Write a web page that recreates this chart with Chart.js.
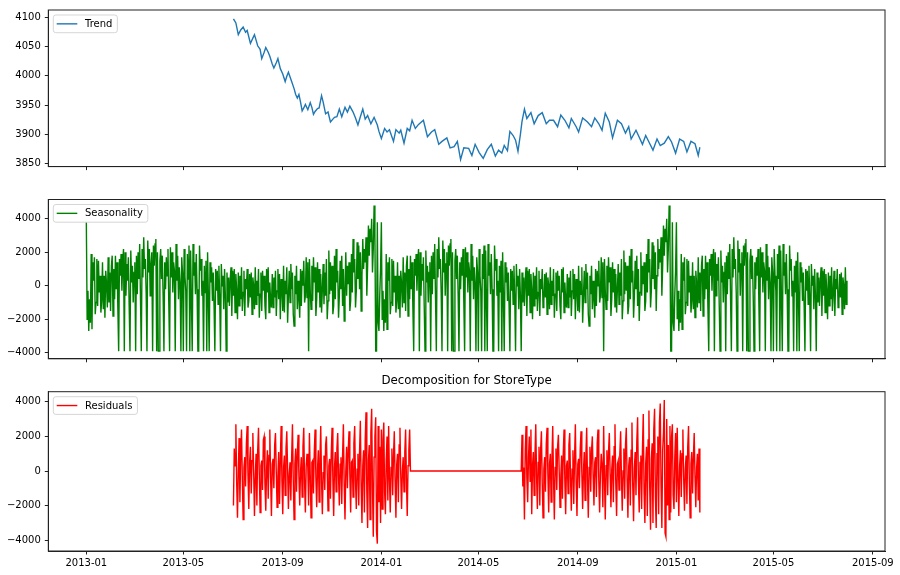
<!DOCTYPE html>
<html>
<head>
<meta charset="utf-8">
<title>Decomposition for StoreType</title>
<script src="https://cdn.jsdelivr.net/npm/chart.js@4.4.1/dist/chart.umd.min.js"></script>
<style>
    body { margin: 0; background: #fff; }
    canvas { position: absolute; left: 0; top: 0; }
</style>
</head>
<body>
<canvas id="trendChart" width="900" height="575"></canvas>
<canvas id="seasonChart" width="900" height="575"></canvas>
<canvas id="residChart" width="900" height="575"></canvas>
<script>
// Eje X: días desde 2013-01-01
const tickDays = [0, 120, 243, 365, 485, 608, 730, 850, 973];
const tickLabels = ['2013-01', '2013-05', '2013-09', '2014-01', '2014-05', '2014-09', '2015-01', '2015-05', '2015-09'];
const trendTicks = [3850, 3900, 3950, 4000, 4050, 4100];
const bigTicks = [-4000, -2000, 0, 2000, 4000];

// Tendencia (día, valor)
const trendDays = [
    182, 185, 188, 191, 194, 197, 199, 203, 206, 208,
    212, 215, 217, 220, 222, 225, 227, 230, 232, 235,
    237, 240, 243, 246, 248, 250, 254, 257, 259, 261,
    263, 265, 267, 269, 271, 274, 277, 279, 281, 283,
    286, 288, 291, 293, 296, 299, 302, 305, 307, 310,
    313, 316, 320, 323, 326, 330, 333, 336, 339, 342,
    345, 348, 352, 356, 360, 362, 365, 369, 372, 375,
    380, 383, 387, 389, 393, 397, 400, 403, 407, 411,
    417, 422, 427, 431, 436, 440, 446, 450, 455, 459,
    463, 467, 473, 477, 481, 486, 491, 496, 501, 506,
    510, 514, 517, 521, 524, 528, 531, 534, 537, 539,
    542, 545, 550, 554, 559, 564, 569, 573, 578, 583,
    587, 592, 597, 600, 606, 609, 614, 620, 625, 629,
    634, 638, 642, 647, 651, 657, 662, 667, 671, 674,
    680, 684, 688, 692, 696, 701, 706, 710, 715, 720,
    724, 729, 734, 739, 743, 748, 753, 757, 759
];
const trendValues = [
    4097, 4090, 4070, 4078, 4083, 4074, 4077, 4055, 4064, 4070,
    4051, 4045, 4029, 4040, 4048, 4040, 4033, 4020, 4013, 4022,
    4029, 4012, 4003, 3990, 3999, 4006, 3990, 3978, 3968, 3962,
    3968, 3955, 3940, 3945, 3951, 3942, 3954, 3946, 3934, 3939,
    3944, 3945, 3966, 3955, 3935, 3938, 3921, 3926, 3929, 3930,
    3943, 3930, 3946, 3938, 3948, 3938, 3928, 3916, 3930, 3943,
    3926, 3932, 3918, 3929, 3916, 3905, 3893, 3910, 3904, 3908,
    3888, 3908, 3902, 3907, 3885, 3910, 3906, 3924, 3910, 3917,
    3924, 3896, 3904, 3908, 3883, 3888, 3894, 3877, 3879, 3888,
    3857, 3877, 3876, 3864, 3883, 3869, 3859, 3874, 3883, 3863,
    3873, 3868, 3881, 3872, 3905, 3898, 3890, 3871, 3900, 3922,
    3943, 3927, 3937, 3918, 3932, 3937, 3918, 3924, 3924, 3913,
    3933, 3924, 3911, 3927, 3913, 3904, 3928, 3921, 3913, 3928,
    3918, 3907, 3936, 3921, 3894, 3924, 3918, 3902, 3913, 3892,
    3907, 3895, 3883, 3898, 3887, 3873, 3892, 3881, 3885, 3896,
    3887, 3868, 3892, 3888, 3870, 3888, 3884, 3864, 3878
];

// Estacionalidad diaria (en centenas), una semana por línea
const season2013 = [
    38, -20, -3, -27, -8, -22, 19,
    -26, 14, 3, 17, -17, -10, 16,
    -12, 15, -4, 6, -16, -9, 14,
    -14, 6, -19, 9, 1, -13, 17,
    -10, 8, -15, 12, 18, -18, 10,
    -8, 18, -2, 14, -14, -39, 16,
    6, 19, -3, 14, 22, -39, 20,
    -6, 13, 3, 17, -12, -39, 21,
    2, 12, -10, 8, 14, -39, 18,
    -5, 20, 4, 25, -8, -39, 22,
    5, 29, 10, 16, -4, -39, 27,
    8, 22, -6, 13, 20, -39, 24,
    12, 25, 28, -39, 20, -39, -39,
    15, 22, 4, 18, -6, -39, 14,
    -2, 17, 6, 22, -10, -39, 23,
    5, 20, -4, 14, 9, -39, 25,
    3, 18, -8, 11, 2, -39, 17,
    8, -39, 22, 6, -3, -39, 19,
    4, 24, -39, 21, -8, -39, 25,
    6, 14, -5, 19, -2, -39, -39,
    24, 9, 16, -6, 3, -39, 12,
    -4, 15, -39, 20, -6, -39, 14,
    2, 11, -9, 8, -12, -39, 10,
    -3, 9, -11, 12, -7, -39, 13,
    0, 6, -14, 10, -6, -39, 8,
    -10, 5, -12, 4, 11, -18, 9,
    -6, 10, -16, 7, -3, -20, 8,
    -12, 6, -8, 11, -15, -4, 9,
    -18, 4, -2, 10, -13, -9, 7,
    -7, 8, -17, 5, 0, -14, 11,
    -11, 3, -6, 10, -19, -5, 8,
    -15, 9, -3, 6, -12, -20, 10,
    -4, 11, -16, 2, -9, -13, 7,
    -13, 5, -7, 9, -18, -3, 10,
    -8, 7, -20, 4, -2, -15, 12,
    -16, 3, -5, 11, -22, -6, 9,
    -10, 13, -2, 8, -17, -24, 6,
    -5, 12, -14, 3, -8, -19, 10,
    -12, 9, 0, 15, -10, -6, 17,
    -7, 14, -39, 16, -3, -14, 12,
    -9, 17, 2, 11, -18, -8, 14,
    -4, 10, -13, 7, -16, -2, 13,
    -11, 8, -6, 16, -20, -9, 21,
    -5, 14, -3, 12, -17, -12, 18,
    -8, 22, 2, 9, -19, -6, 15,
    -2, 18, -12, 10, -21, -4, 20,
    -6, 12, 1, 14, -15, -9, 19,
    -4, 28, 8, 16, -13, -3, 26,
    4, 24, -2, 20, -15, 6, 28,
    10, 22, 14, 29, -6, 12, 36,
    18, 34, 26, 40, 8, 22, 48,
    30, -39, -39, 38, -22, -27, -5,
    10
];
const season2014 = [
    38, -20, -3, -27, -8, -22, 19,
    -26, 14, 3, 17, -17, -10, 16,
    -12, 15, -4, 6, -16, -9, 14,
    -14, 6, -19, 9, 1, -13, 17,
    -10, 8, -15, 12, 18, -18, 10,
    -8, 18, -2, 14, -14, -39, 16,
    6, 19, -3, 14, 22, -39, 20,
    -6, 13, 3, 17, -12, -39, 21,
    2, 12, -10, 8, 14, -39, 18,
    -5, 20, 4, 25, -8, -39, 22,
    5, 29, 10, 16, -4, -39, 27,
    8, 22, -6, 13, 20, -39, 24,
    12, 25, 28, -39, 20, -39, -39,
    15, 22, 4, 18, -6, -39, 14,
    -2, 17, 6, 22, -10, -39, 23,
    5, 20, -4, 14, 9, -39, 25,
    3, 18, -8, 11, 2, -39, 17,
    8, -39, 22, 6, -3, -39, 19,
    4, 24, -39, 21, -8, -39, 25,
    6, 14, -5, 19, -2, -39, -39,
    24, 9, 16, -6, 3, -39, 12,
    -4, 15, -39, 20, -6, -39, 14,
    2, 11, -9, 8, -12, -39, 10,
    -3, 9, -11, 12, -7, -39, 13,
    0, 6, -14, 10, -6, -39, 8,
    -10, 5, -12, 4, 11, -18, 9,
    -6, 10, -16, 7, -3, -20, 8,
    -12, 6, -8, 11, -15, -4, 9,
    -18, 4, -2, 10, -13, -9, 7,
    -7, 8, -17, 5, 0, -14, 11,
    -11, 3, -6, 10, -19, -5, 8,
    -15, 9, -3, 6, -12, -20, 10,
    -4, 11, -16, 2, -9, -13, 7,
    -13, 5, -7, 9, -18, -3, 10,
    -8, 7, -20, 4, -2, -15, 12,
    -16, 3, -5, 11, -22, -6, 9,
    -10, 13, -2, 8, -17, -24, 6,
    -5, 12, -14, 3, -8, -19, 10,
    -12, 9, 0, 15, -10, -6, 17,
    -7, 14, -39, 16, -3, -14, 12,
    -9, 17, 2, 11, -18, -8, 14,
    -4, 10, -13, 7, -16, -2, 13,
    -11, 8, -6, 16, -20, -9, 21,
    -5, 14, -3, 12, -17, -12, 18,
    -8, 22, 2, 9, -19, -6, 15,
    -2, 18, -12, 10, -21, -4, 20,
    -6, 12, 1, 14, -15, -9, 19,
    -4, 28, 8, 16, -13, -3, 26,
    4, 24, -2, 20, -15, 6, 28,
    10, 22, 14, 29, -6, 12, 36,
    18, 34, 26, 40, 8, 22, 48,
    30, -39, -39, 38, -22, -27, -5,
    10
];
const season2015 = [
    38, -20, -3, -27, -8, -22, 19,
    -26, 14, 3, 17, -17, -10, 16,
    -12, 15, -4, 6, -16, -9, 14,
    -14, 6, -19, 9, 1, -13, 17,
    -10, 8, -15, 12, 18, -18, 10,
    -8, 18, -2, 14, -14, -39, 16,
    6, 19, -3, 14, 22, -39, 20,
    -6, 13, 3, 17, -12, -39, 21,
    2, 12, -10, 8, 14, -39, 18,
    -5, 20, 4, 25, -8, -39, 22,
    5, 29, 10, 16, -4, -39, 27,
    8, 22, -6, 13, 20, -39, 24,
    12, 25, 28, -39, 20, -39, -39,
    15, 22, 4, 18, -6, -39, 14,
    -2, 17, 6, 22, -10, -39, 23,
    5, 20, -4, 14, 9, -39, 25,
    3, 18, -8, 11, 2, -39, 17,
    8, -39, 22, 6, -3, -39, 19,
    4, 24, -39, 21, -8, -39, 25,
    6, 14, -5, 19, -2, -39, -39,
    24, 9, 16, -6, 3, -39, 12,
    -4, 15, -39, 20, -6, -39, 14,
    2, 11, -9, 8, -12, -39, 10,
    -3, 9, -11, 12, -7, -39, 13,
    0, 6, -14, 10, -6, -39, 8,
    -10, 5, -12, 4, 11, -18, 9,
    -6, 10, -16, 7, -3, -20, 8,
    -12, 6, -8, 11, -15, -4, 9,
    -18, 4, -2, 10, -13, -9, 7,
    -7, 8, -17, 5, 0, -14, 11,
    -11, 3
];

// Residuos (en centenas): tramo A desde el día 182, tramo B desde el día 539
const residualStartA = 182;
const residualStartB = 539;
const residualsA = [
    -20, 13, 3, 27, -7, -27, 0,
    19, -18, 11, 24, -5, -28, 2,
    8, -9, 16, 26, -3, -22, 5,
    14, -13, 6, 22, 0, -26, -4,
    10, -20, 12, 25, -2, -24, 3,
    6, -11, 18, 20, -8, -23, 1,
    12, -16, 9, 24, -4, -26, 4,
    7, -10, 15, 22, -1, -21, -3,
    11, -19, 6, 26, -6, -25, 2,
    9, -14, 13, 23, 1, -22, -2,
    5, -17, 8, 27, -5, -28, 4,
    13, -12, 10, 21, -3, -20, 0,
    8, -15, 14, 25, -7, -24, 3,
    10, 2, -20, 22, -2, -27, 5,
    6, -13, 11, 24, -4, -21, 1,
    12, -18, 7, 26, -6, -25, -1,
    9, -11, 15, 20, 0, -23, 3,
    7, -16, 10, 25, -5, -26, 2,
    11, -12, 13, 22, -3, -20, 4,
    8, -19, 9, 27, -8, -28, 0,
    14, -10, 12, 23, -2, -24, 5,
    6, -15, 16, 26, -6, -22, 1,
    10, -20, 11, 29, -9, -30, 3,
    12, -24, 18, 34, -12, -33, 6,
    15, -28, 22, 36, -10, -38, 8,
    20, 31, -35, -42, 26, -18, 14,
    -30, 24, -22, 18, 28, -12, -25,
    6, 20, -17, 26, -4, -24, 2,
    13, -14, 9, 23, -6, -27, 4,
    10, -18, 15, 25, -3, -22, 0,
    8, -12, 11, 24, -5, -26, 3,
    12, 24
];
const residualGapDays = [401, 538];
const residualGapValues = [0, 0];
const residualsB = [
    21, -9, 2, -28, 12, 26, -4,
    -18, 8, 20, -6, 24, -25, 3,
    11, -14, 9, 27, -3, -22, 5,
    14, -20, 12, 23, -7, -27, 1,
    8, -12, 16, 25, -2, -24, 4,
    10, -18, 7, 26, -5, -28, 2,
    13, -11, 14, 21, 0, -21, -3,
    9, -16, 10, 24, -6, -25, 3,
    6, -13, 15, 22, -4, -23, 1,
    12, -19, 8, 27, -8, -26, 4,
    7, -10, 13, 23, -1, -22, 0,
    11, -17, 9, 25, -5, -27, 2,
    14, -12, 12, 20, -3, -20, 5,
    8, -15, 16, 24, -6, -24, -2,
    10, 3, -21, 26, -4, -28, 3,
    12, -14, 11, 22, -2, -21, 1,
    9, -18, 14, 27, -7, -26, 4,
    6, -11, 10, 23, -3, -23, 0,
    13, -16, 15, 25, -5, -27, 3,
    8, -20, 12, 28, -9, -29, 2,
    11, -14, 17, 31, -6, -24, 5,
    9, -22, 13, 33, -12, -30, 4,
    14, -26, 18, 35, -10, -34, 7,
    16, -30, 24, 36, -15, -33, 10,
    20, -25, 28, 39, -8, -33, 12,
    22, 41, -36, -38, 30, -20, 15,
    -28, 26, -24, 20, 27, -14, -22,
    8, 22, -18, 25, -5, -26, 3,
    12, -15, 10, 24, -4, -23, 1,
    9, -19, 14, 26, -6, -27, 4,
    11, -13, 8, 22, -3, -21, 2,
    10, -17, 13, -24
];

// Construir los puntos de cada serie
const trendPoints = trendDays.map((d, i) => ({ x: d, y: trendValues[i] }));
const seasonPoints = season2013.concat(season2014, season2015).map((v, i) => ({ x: i, y: v * 100 }));
const residualPoints = [
    ...residualsA.map((v, i) => ({ x: residualStartA + i, y: v * 100 })),
    ...residualGapDays.map((d, i) => ({ x: d, y: residualGapValues[i] })),
    ...residualsB.map((v, i) => ({ x: residualStartB + i, y: v * 100 }))
];

Chart.defaults.font.family = '"DejaVu Sans", sans-serif';
Chart.defaults.color = '#000';

// Marco, leyenda y título de cada panel
const panelDecor = {
    id: 'panelDecor',
    afterDraw(chart, args, opts) {
        const { ctx, chartArea: a } = chart;
        ctx.save();
        ctx.strokeStyle = '#222';
        ctx.lineWidth = 1;
        ctx.strokeRect(a.left, a.top, a.right - a.left, a.bottom - a.top);

        ctx.font = '10px "DejaVu Sans"';
        const bx = a.left + 5, by = a.top + 5, bh = 17.7;
        const bw = 31.7 + ctx.measureText(opts.label).width + 5;
        ctx.beginPath();
        ctx.roundRect(bx, by, bw, bh, 2.5);
        ctx.fillStyle = 'rgba(255,255,255,0.8)';
        ctx.fill();
        ctx.strokeStyle = 'rgba(204,204,204,0.8)';
        ctx.stroke();
        const cy = by + bh / 2;
        ctx.beginPath();
        ctx.moveTo(bx + 3.4, cy);
        ctx.lineTo(bx + 24, cy);
        ctx.strokeStyle = opts.color;
        ctx.lineWidth = 1.4;
        ctx.stroke();
        ctx.fillStyle = '#000';
        ctx.textBaseline = 'middle';
        ctx.fillText(opts.label, bx + 31.7, cy + 0.5);

        if (opts.title) {
            ctx.font = '11.8px "DejaVu Sans"';
            ctx.textAlign = 'center';
            ctx.fillText(opts.title, (a.left + a.right) / 2, a.top - 10.5);
        }
        ctx.restore();
    }
};

function formatTick(v) {
    return v < 0 ? '\u2212' + Math.abs(v) : String(v);
}

function createPanel(canvasId, cfg) {
    const ctx = document.getElementById(canvasId).getContext('2d');
    return new Chart(ctx, {
        type: 'line',
        data: {
            datasets: [{
                data: cfg.points,
                borderColor: cfg.color,
                borderWidth: 1.4,
                pointRadius: 0,
                tension: 0,
                fill: false
            }]
        },
        options: {
            responsive: false,
            animation: false,
            events: [],
            layout: { padding: { left: 0, right: 15, top: cfg.top, bottom: 575 - cfg.bottom - cfg.xHeight } },
            plugins: {
                legend: { display: false },
                tooltip: { enabled: false },
                panelDecor: { label: cfg.label, color: cfg.color, title: cfg.title }
            },
            scales: {
                x: {
                    type: 'linear',
                    min: -47.05,
                    max: 988.05,
                    afterBuildTicks: s => { s.ticks = tickDays.map(v => ({ value: v })); },
                    afterFit: s => { s.height = cfg.xHeight; },
                    grid: { drawOnChartArea: false, tickLength: 3.5, color: '#222', lineWidth: 1 },
                    border: { color: '#222', width: 1 },
                    ticks: {
                        display: cfg.showX,
                        autoSkip: false,
                        maxRotation: 0,
                        padding: 2.5,
                        font: { size: 10 },
                        callback: (v, i) => tickLabels[i]
                    }
                },
                y: {
                    min: cfg.yMin,
                    max: cfg.yMax,
                    afterBuildTicks: s => { s.ticks = cfg.yTicks.map(v => ({ value: v })); },
                    afterFit: s => { s.width = 48.3; },
                    grid: { drawOnChartArea: false, tickLength: 3.5, color: '#222', lineWidth: 1 },
                    border: { color: '#222', width: 1 },
                    ticks: { padding: 4, font: { size: 10 }, callback: v => formatTick(v) }
                }
            }
        },
        plugins: [panelDecor]
    });
}

createPanel('trendChart', {
    points: trendPoints, color: '#1f77b4', label: 'Trend',
    top: 7.3, bottom: 166.6, xHeight: 10, showX: false,
    yMin: 3845, yMax: 4112, yTicks: trendTicks
});
createPanel('seasonChart', {
    points: seasonPoints, color: '#008000', label: 'Seasonality',
    top: 199.5, bottom: 358.8, xHeight: 10, showX: false,
    yMin: -4358, yMax: 5152, yTicks: bigTicks
});
createPanel('residChart', {
    points: residualPoints, color: '#ff0000', label: 'Residuals', title: 'Decomposition for StoreType',
    top: 391.7, bottom: 551, xHeight: 24, showX: true,
    yMin: -4624, yMax: 4584, yTicks: bigTicks
});
</script>
</body>
</html>
